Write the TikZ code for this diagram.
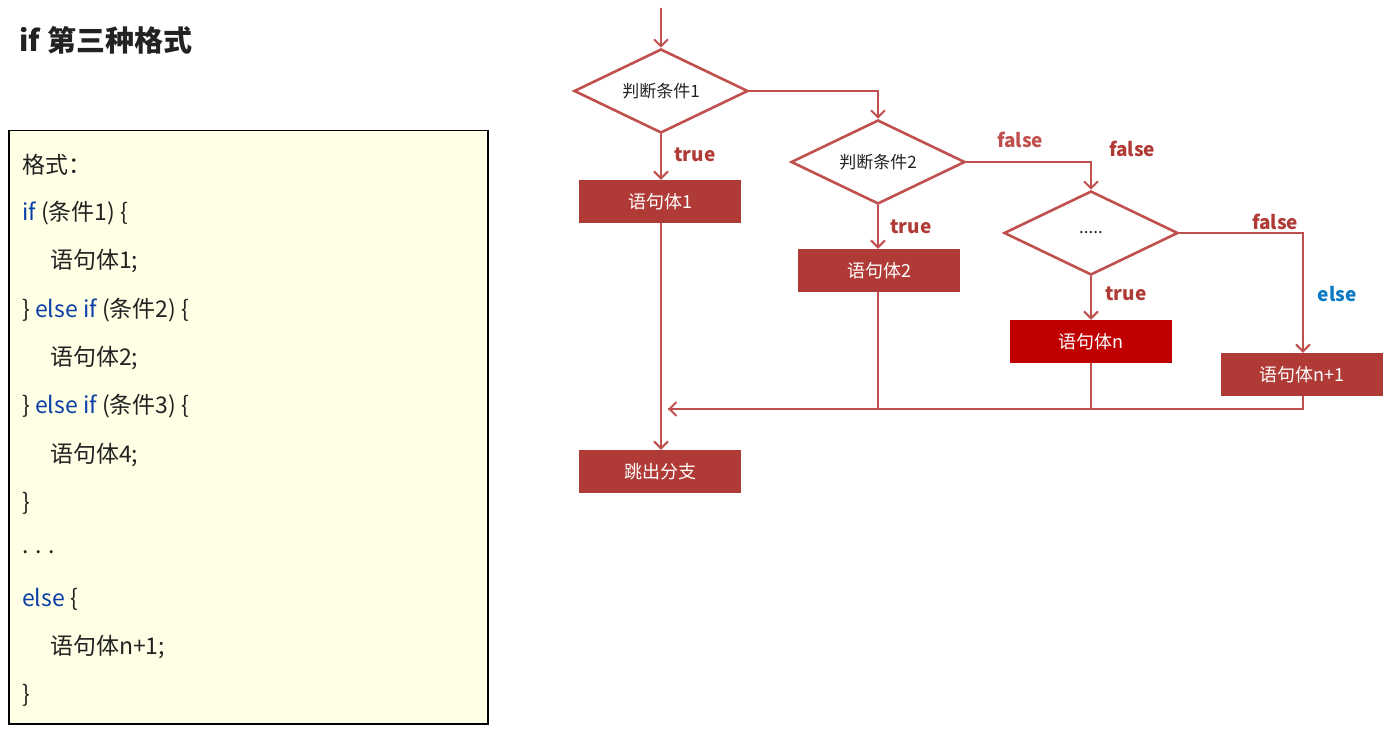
\documentclass[tikz,border=0pt]{standalone}
\usepackage{fontspec}
\setmainfont{Noto Sans CJK SC}
\usetikzlibrary{shapes.geometric,arrows.meta}
\definecolor{ln}{HTML}{C0504D}
\definecolor{bx}{HTML}{B03A36}
\definecolor{bxn}{HTML}{C00000}
\definecolor{lbl}{HTML}{B03A36}
\definecolor{kw}{HTML}{0B3FA8}
\definecolor{txt}{HTML}{222222}
\definecolor{yel}{HTML}{FFFFE5}
\begin{document}
\begin{tikzpicture}[x=1pt,y=-1pt,
  fl/.style={draw=ln,line width=2.6pt},
  ar/.style={fl,-{Straight Barb[length=7pt,width=14pt,line width=2pt]}},
  dia/.style={diamond,draw=ln,line width=2.6pt,fill=white,aspect=2.07,minimum width=174pt,minimum height=84pt,inner sep=0pt,font=\fontsize{17}{20}\selectfont,text=txt},
  sbox/.style={fill=bx,minimum width=162pt,minimum height=43pt,inner sep=0pt,text=white,font=\fontsize{18}{20}\selectfont},
  lab/.style={text=lbl,font=\bfseries\fontsize{19}{22}\selectfont},
  code/.style={anchor=west,text=txt,font=\fontsize{23}{26}\selectfont,inner sep=0pt}]
\useasboundingbox (0,0) rectangle (1388,730);
\node[anchor=west,text=txt,font=\bfseries\fontsize{29}{32}\selectfont] (title) at (16,40) {if 第三种格式};
\node[draw=black,line width=1.5pt,fill=yel,minimum width=479pt,minimum height=593pt,anchor=north west,inner sep=0pt] (codebox) at (8,130) {};
\node[code] (c1) at (22,165) {格式：};
\node[code] (c2) at (22,213) {\textcolor{kw}{if} (条件1) \{};
\node[code] (c3) at (50,261) {语句体1;};
\node[code] (c4) at (22,310) {\} \textcolor{kw}{else if} (条件2) \{};
\node[code] (c5) at (50,358) {语句体2;};
\node[code] (c6) at (22,406) {\} \textcolor{kw}{else if} (条件3) \{};
\node[code] (c7) at (50,455) {语句体4;};
\node[code] (c8) at (22,503) {\}};
\node[code] (c9) at (22,552) {. . .};
\node[code] (c10) at (22,599) {\textcolor{kw}{else} \{};
\node[code] (c11) at (50,647) {语句体n+1;};
\node[code] (c12) at (22,695) {\}};

\coordinate (start) at (661,8);
\node[dia] (d1) at (661,91) {判断条件1};
\node[dia] (d2) at (878,162) {判断条件2};
\node[dia] (d3) at (1091,233) {.....};
\node[sbox] (b1) at (660,201.5) {语句体1};
\node[sbox] (b2) at (879,270.5) {语句体2};
\node[sbox,fill=bxn] (bn) at (1090.5,341.5) {语句体n};
\node[sbox] (bn1) at (1302,374.5) {语句体n+1};
\node[sbox] (out) at (660,471.5) {跳出分支};
\coordinate (m) at (661,409);

\draw[ar] (start) -- (d1.north);
\draw[ar] (d1.south) -- (b1.north -| d1.south);
\draw[ar] (d1.east) -| (d2.north);
\draw[ar] (d2.south) -- (b2.north -| d2.south);
\draw[ar] (d2.east) -| (d3.north);
\draw[ar] (d3.south) -- (bn.north -| d3.south);
\draw[ar] (d3.east) -| (bn1.north -| 1303,0);
\draw[ar] (b1.south -| d1.south) -- (out.north -| d1.south);
\draw[fl] (bn1.south -| 1303,0) |- (1303,409) -- (668,409);
\draw[ar] (1303,409) -- (668,409);
\draw[fl] (b2.south -| d2.south) -- (d2.south |- m);
\draw[fl] (bn.south -| d3.south) -- (d3.south |- m);

\node[lab] (t1) at (695,155) {true};
\node[lab] (t2) at (911,227) {true};
\node[lab] (t3) at (1126,294) {true};
\node[lab,text=ln] (f1) at (1020,140) {false};
\node[lab] (f2) at (1132,149) {false};
\node[lab] (f3) at (1275,222) {false};
\node[lab,text=kw!70!cyan] (e1) at (1337,294) {else};
\end{tikzpicture}
\end{document}
